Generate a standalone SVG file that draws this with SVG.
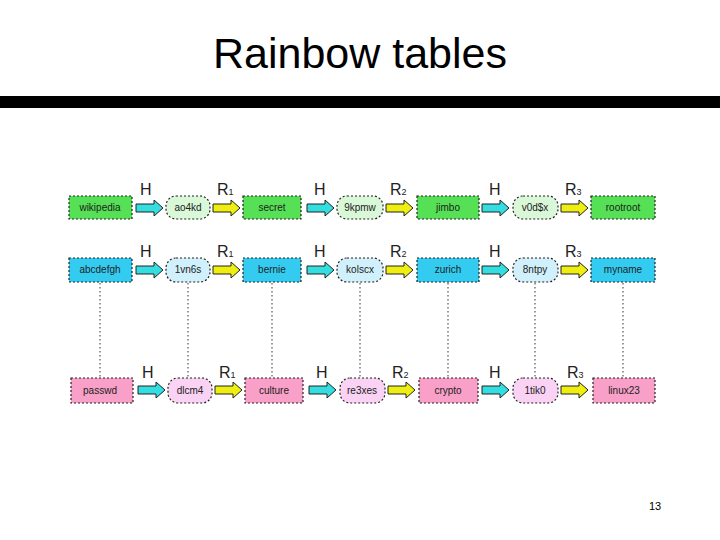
<svg xmlns="http://www.w3.org/2000/svg" width="720" height="540" viewBox="0 0 720 540">
<style>
text{font-family:"Liberation Sans",Arial,sans-serif}
.b{stroke:#222;stroke-width:1.2;stroke-dasharray:2,2}
.t{font-size:10px;text-anchor:middle;fill:#222}
.l{font-size:16px;fill:#222}
.s{font-size:9px}
.v{stroke:#333;stroke-dasharray:1.5,2.5;stroke-width:1}
.ac{fill:#33dde0;stroke:#222;stroke-width:1}
.ay{fill:#eeee11;stroke:#222;stroke-width:1}
</style>
<defs>
<path id="ar" d="M0,-4 H18 V-8 L27,0 L18,8 V4 H0 Z"/>
</defs>
<rect width="720" height="540" fill="#fff"/>
<text x="360" y="68" font-size="43" text-anchor="middle" fill="#000">Rainbow tables</text>
<rect x="0" y="96" width="720" height="12" fill="#000"/>
<text x="655" y="510" font-size="11" text-anchor="middle" fill="#000">13</text>
<g id="connectors">
<g class="v">
<line x1="100" y1="283" x2="100" y2="377"/><line x1="188" y1="283" x2="188" y2="377"/><line x1="272" y1="283" x2="272" y2="377"/><line x1="360" y1="283" x2="360" y2="377"/><line x1="448" y1="283" x2="448" y2="377"/><line x1="535" y1="283" x2="535" y2="377"/><line x1="623" y1="283" x2="623" y2="377"/>
</g>
<use href="#ar" class="ac" x="136" y="208"/><use href="#ar" class="ay" x="213" y="208"/><use href="#ar" class="ac" x="307" y="208"/><use href="#ar" class="ay" x="386" y="208"/><use href="#ar" class="ac" x="482" y="208"/><use href="#ar" class="ay" x="561" y="208"/>
<use href="#ar" class="ac" x="136" y="270"/><use href="#ar" class="ay" x="213" y="270"/><use href="#ar" class="ac" x="307" y="270"/><use href="#ar" class="ay" x="386" y="270"/><use href="#ar" class="ac" x="482" y="270"/><use href="#ar" class="ay" x="561" y="270"/>
<use href="#ar" class="ac" x="138" y="390"/><use href="#ar" class="ay" x="215" y="390"/><use href="#ar" class="ac" x="309" y="390"/><use href="#ar" class="ay" x="388" y="390"/><use href="#ar" class="ac" x="482" y="390"/><use href="#ar" class="ay" x="561" y="390"/>
<g class="l">
<text x="140" y="195">H</text><text x="217" y="195">R<tspan class="s">1</tspan></text><text x="314" y="195">H</text><text x="390" y="195">R<tspan class="s">2</tspan></text><text x="489" y="195">H</text><text x="565" y="195">R<tspan class="s">3</tspan></text>
<text x="140" y="257">H</text><text x="217" y="257">R<tspan class="s">1</tspan></text><text x="314" y="257">H</text><text x="390" y="257">R<tspan class="s">2</tspan></text><text x="489" y="257">H</text><text x="565" y="257">R<tspan class="s">3</tspan></text>
<text x="142" y="378">H</text><text x="219" y="378">R<tspan class="s">1</tspan></text><text x="316" y="378">H</text><text x="392" y="378">R<tspan class="s">2</tspan></text><text x="489" y="378">H</text><text x="567" y="378">R<tspan class="s">3</tspan></text>
</g>
</g>
<g id="row1">
<g id="n1a"><rect class="b" x="69" y="196" width="63" height="23" fill="#55e055"/><text class="t" x="100" y="211">wikipedia</text></g>
<g id="n1b"><rect class="b" x="166" y="196" width="44" height="23" rx="10" fill="#d8f8d8"/><text class="t" x="188" y="211">ao4kd</text></g>
<g id="n1c"><rect class="b" x="243" y="196" width="58" height="23" fill="#55e055"/><text class="t" x="272" y="211">secret</text></g>
<g id="n1d"><rect class="b" x="337" y="196" width="46" height="23" rx="10" fill="#d8f8d8"/><text class="t" x="360" y="211">9kpmw</text></g>
<g id="n1e"><rect class="b" x="417" y="196" width="62" height="23" fill="#55e055"/><text class="t" x="448" y="211">jimbo</text></g>
<g id="n1f"><rect class="b" x="513" y="196" width="45" height="23" rx="10" fill="#d8f8d8"/><text class="t" x="535" y="211">v0d$x</text></g>
<g id="n1g"><rect class="b" x="591" y="196" width="64" height="23" fill="#55e055"/><text class="t" x="623" y="211">rootroot</text></g>
</g>
<g id="row2">
<g id="n2a"><rect class="b" x="69" y="258" width="63" height="24" fill="#33ccf0"/><text class="t" x="100" y="273">abcdefgh</text></g>
<g id="n2b"><rect class="b" x="166" y="258" width="44" height="24" rx="10" fill="#d0f0fb"/><text class="t" x="188" y="273">1vn6s</text></g>
<g id="n2c"><rect class="b" x="243" y="258" width="58" height="24" fill="#33ccf0"/><text class="t" x="272" y="273">bernie</text></g>
<g id="n2d"><rect class="b" x="337" y="258" width="46" height="24" rx="10" fill="#d0f0fb"/><text class="t" x="360" y="273">kolscx</text></g>
<g id="n2e"><rect class="b" x="417" y="258" width="62" height="24" fill="#33ccf0"/><text class="t" x="448" y="273">zurich</text></g>
<g id="n2f"><rect class="b" x="513" y="258" width="45" height="24" rx="10" fill="#d0f0fb"/><text class="t" x="535" y="273">8ntpy</text></g>
<g id="n2g"><rect class="b" x="591" y="258" width="64" height="24" fill="#33ccf0"/><text class="t" x="623" y="273">myname</text></g>
</g>
<g id="row3">
<g id="n3a"><rect class="b" x="71" y="378" width="62" height="25" fill="#f9a0c8"/><text class="t" x="100" y="394">passwd</text></g>
<g id="n3b"><rect class="b" x="168" y="378" width="44" height="25" rx="10" fill="#fad2f4"/><text class="t" x="190" y="394">dlcm4</text></g>
<g id="n3c"><rect class="b" x="245" y="378" width="58" height="25" fill="#f9a0c8"/><text class="t" x="274" y="394">culture</text></g>
<g id="n3d"><rect class="b" x="340" y="378" width="45" height="25" rx="10" fill="#fad2f4"/><text class="t" x="362" y="394">re3xes</text></g>
<g id="n3e"><rect class="b" x="419" y="378" width="59" height="25" fill="#f9a0c8"/><text class="t" x="448" y="394">crypto</text></g>
<g id="n3f"><rect class="b" x="513" y="378" width="45" height="25" rx="10" fill="#fad2f4"/><text class="t" x="535" y="394">1tik0</text></g>
<g id="n3g"><rect class="b" x="593" y="378" width="62" height="25" fill="#f9a0c8"/><text class="t" x="624" y="394">linux23</text></g>
</g>
</svg>
